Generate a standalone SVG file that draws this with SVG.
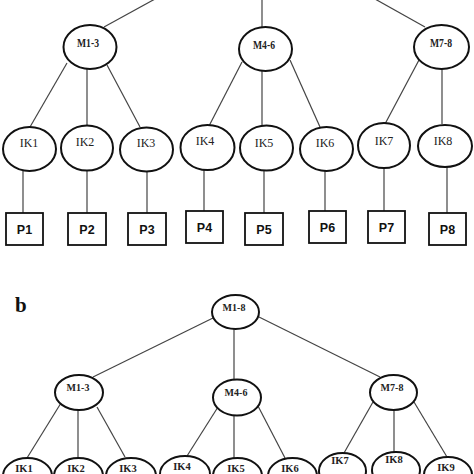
<svg xmlns="http://www.w3.org/2000/svg" width="474" height="474" viewBox="0 0 474 474">
<style>
.n{fill:#fff;stroke:#111;stroke-width:2}
.b{fill:#fff;stroke:#111;stroke-width:1.8}
.e{stroke:#444;stroke-width:1.2;fill:none}
.tm{font-family:"Liberation Serif",serif;font-size:12px;font-weight:bold;fill:#222;text-anchor:middle}
.ti{font-family:"Liberation Serif",serif;font-size:12px;fill:#222;text-anchor:middle}
.tp{font-family:"Liberation Sans",Arial,sans-serif;font-size:12.5px;font-weight:bold;fill:#111;text-anchor:middle}
.sm{font-family:"Liberation Serif",serif;font-size:10px;font-weight:bold;fill:#222;text-anchor:middle}
.si{font-family:"Liberation Serif",serif;font-size:10.5px;font-weight:bold;fill:#222;text-anchor:middle}
</style>
<rect width="474" height="474" fill="#fff"/>
<g id="connectors">
<line class="e" x1="104" y1="27" x2="155" y2="-1"/>
<line class="e" x1="262" y1="27" x2="262" y2="-1"/>
<line class="e" x1="425" y1="27" x2="375" y2="-1"/>
<line class="e" x1="67" y1="63" x2="30" y2="127"/>
<line class="e" x1="87" y1="69" x2="87" y2="126"/>
<line class="e" x1="107" y1="65" x2="140" y2="127"/>
<line class="e" x1="242" y1="62" x2="209" y2="126"/>
<line class="e" x1="262" y1="71" x2="262" y2="126"/>
<line class="e" x1="290" y1="60" x2="320" y2="127"/>
<line class="e" x1="419" y1="60" x2="385" y2="124"/>
<line class="e" x1="442" y1="69" x2="442" y2="124"/>
<line class="e" x1="23" y1="171" x2="23" y2="213"/>
<line class="e" x1="87" y1="170" x2="87" y2="213"/>
<line class="e" x1="147" y1="171" x2="147" y2="213"/>
<line class="e" x1="204" y1="169" x2="204" y2="211"/>
<line class="e" x1="264" y1="170" x2="264" y2="213"/>
<line class="e" x1="325" y1="171" x2="325" y2="211"/>
<line class="e" x1="384" y1="167" x2="384" y2="211"/>
<line class="e" x1="447" y1="167" x2="447" y2="213"/>
<line class="e" x1="213" y1="318" x2="93" y2="377"/>
<line class="e" x1="234" y1="329" x2="234" y2="380"/>
<line class="e" x1="259" y1="317" x2="380" y2="377"/>
<line class="e" x1="61" y1="403" x2="27" y2="458"/>
<line class="e" x1="78" y1="410" x2="78" y2="458"/>
<line class="e" x1="97" y1="407" x2="125" y2="457"/>
<line class="e" x1="218" y1="407" x2="187" y2="456"/>
<line class="e" x1="234" y1="415" x2="234" y2="458"/>
<line class="e" x1="258" y1="406" x2="285" y2="458"/>
<line class="e" x1="373" y1="402" x2="344" y2="453"/>
<line class="e" x1="394" y1="410" x2="394" y2="452"/>
<line class="e" x1="414" y1="402" x2="447" y2="457"/>
</g>
<g id="M1-3a"><ellipse class="n" cx="90" cy="47" rx="26.5" ry="22"/><text class="tm" x="88" y="47" textLength="22" lengthAdjust="spacingAndGlyphs">M1-3</text></g>
<g id="M4-6a"><ellipse class="n" cx="265.5" cy="49" rx="26.5" ry="22"/><text class="tm" x="264" y="49" textLength="22" lengthAdjust="spacingAndGlyphs">M4-6</text></g>
<g id="M7-8a"><ellipse class="n" cx="441.5" cy="47" rx="27.5" ry="22"/><text class="tm" x="441" y="47" textLength="22" lengthAdjust="spacingAndGlyphs">M7-8</text></g>
<g id="IK1a"><ellipse class="n" cx="29.5" cy="149" rx="26.5" ry="22"/><text class="ti" x="29" y="147">IK1</text></g>
<g id="IK2a"><ellipse class="n" cx="87" cy="148" rx="26" ry="22.5"/><text class="ti" x="85" y="146">IK2</text></g>
<g id="IK3a"><ellipse class="n" cx="146.5" cy="149.5" rx="26.5" ry="22"/><text class="ti" x="146" y="147">IK3</text></g>
<g id="IK4a"><ellipse class="n" cx="207.5" cy="147.5" rx="27" ry="22.5"/><text class="ti" x="205" y="145">IK4</text></g>
<g id="IK5a"><ellipse class="n" cx="266.5" cy="148" rx="26.5" ry="22.5"/><text class="ti" x="264" y="147">IK5</text></g>
<g id="IK6a"><ellipse class="n" cx="326.5" cy="149" rx="26.5" ry="22"/><text class="ti" x="325" y="147">IK6</text></g>
<g id="IK7a"><ellipse class="n" cx="384" cy="145.5" rx="26" ry="22.5"/><text class="ti" x="384" y="145">IK7</text></g>
<g id="IK8a"><ellipse class="n" cx="445" cy="146" rx="27" ry="21"/><text class="ti" x="443" y="145">IK8</text></g>
<g id="P1"><rect class="b" x="6" y="213" width="37" height="32"/><text class="tp" x="24.5" y="234">P1</text></g>
<g id="P2"><rect class="b" x="68" y="213" width="38" height="32"/><text class="tp" x="87" y="234">P2</text></g>
<g id="P3"><rect class="b" x="128" y="213" width="38" height="32"/><text class="tp" x="147" y="234">P3</text></g>
<g id="P4"><rect class="b" x="186" y="211" width="37" height="32"/><text class="tp" x="204.5" y="232">P4</text></g>
<g id="P5"><rect class="b" x="245" y="213" width="38" height="32"/><text class="tp" x="264" y="234">P5</text></g>
<g id="P6"><rect class="b" x="309" y="211" width="37" height="32"/><text class="tp" x="327.5" y="232">P6</text></g>
<g id="P7"><rect class="b" x="368" y="211" width="37" height="32"/><text class="tp" x="386.5" y="232">P7</text></g>
<g id="P8"><rect class="b" x="429" y="213" width="37" height="32"/><text class="tp" x="447.5" y="234">P8</text></g>
<text x="15" y="312" font-family="Liberation Serif,serif" font-size="21" font-weight="bold" fill="#111">b</text>
<g id="M1-8"><ellipse class="n" cx="235.5" cy="312" rx="23.5" ry="17"/><text class="sm" x="234" y="311">M1-8</text></g>
<g id="M1-3b"><ellipse class="n" cx="79" cy="392.5" rx="24" ry="17.5"/><text class="sm" x="78" y="391">M1-3</text></g>
<g id="M4-6b"><ellipse class="n" cx="237" cy="397.5" rx="24" ry="18"/><text class="sm" x="236" y="396">M4-6</text></g>
<g id="M7-8b"><ellipse class="n" cx="393.5" cy="392.5" rx="23.5" ry="17.5"/><text class="sm" x="392" y="391">M7-8</text></g>
<g id="IK1b"><ellipse class="n" cx="27.5" cy="476" rx="24.5" ry="18"/><text class="si" x="24" y="472">IK1</text></g>
<g id="IK2b"><ellipse class="n" cx="78.5" cy="476" rx="24.5" ry="18"/><text class="si" x="76" y="472">IK2</text></g>
<g id="IK3b"><ellipse class="n" cx="131" cy="476" rx="25" ry="18"/><text class="si" x="128" y="472">IK3</text></g>
<g id="IK4b"><ellipse class="n" cx="185" cy="474" rx="25" ry="18"/><text class="si" x="182" y="470">IK4</text></g>
<g id="IK5b"><ellipse class="n" cx="237.5" cy="476" rx="24.5" ry="18"/><text class="si" x="236" y="472">IK5</text></g>
<g id="IK6b"><ellipse class="n" cx="292.5" cy="476" rx="24.5" ry="18"/><text class="si" x="290" y="472">IK6</text></g>
<g id="IK7b"><ellipse class="n" cx="342.5" cy="471" rx="23.5" ry="18"/><text class="si" x="340" y="464">IK7</text></g>
<g id="IK8b"><ellipse class="n" cx="396" cy="470" rx="24" ry="18"/><text class="si" x="394" y="463">IK8</text></g>
<g id="IK9b"><ellipse class="n" cx="448" cy="475" rx="24" ry="18"/><text class="si" x="446" y="471">IK9</text></g>
</svg>
